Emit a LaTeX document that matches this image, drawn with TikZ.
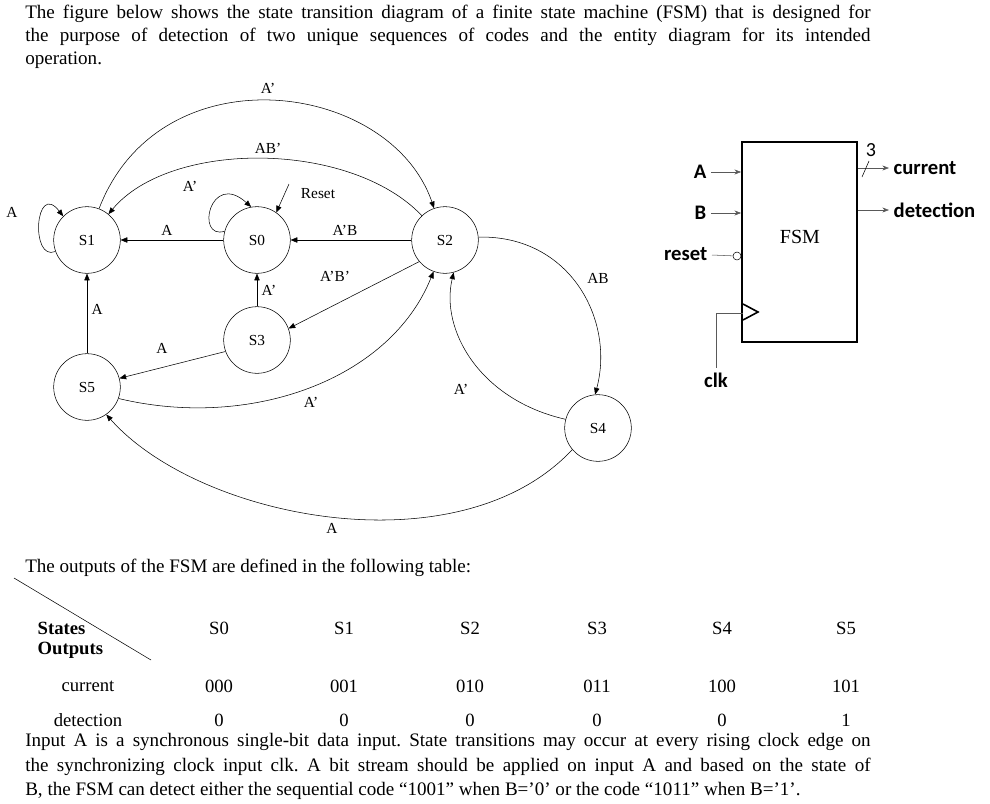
\documentclass[tikz,border=0pt]{standalone}
\usepackage{fontspec}
\setmainfont{Liberation Serif}
\newfontfamily\carlito{Carlito}
\usetikzlibrary{arrows.meta}

\begin{document}
\begin{tikzpicture}[x=0.75pt,y=-0.75pt,
    state/.style={draw,circle,minimum size=50,inner sep=0pt,font=\fontsize{11.5}{11}\selectfont},
    lbl/.style={font=\fontsize{11.5}{12}\selectfont},
    tr/.style={-{Triangle[length=5pt,width=4pt]},thin},
    io/.style={font=\carlito\bfseries\fontsize{15.5}{16}\selectfont},
    cell/.style={font=\fontsize{14}{14}\selectfont}]
\useasboundingbox (0,0) rectangle (990,804);

% Intro text
\node[anchor=north west,inner sep=0pt,text width=634pt,align=justify,font=\frenchspacing\fontsize{14.3}{17.3}\selectfont] (intro) at (25,5)
  {The figure below shows the state transition diagram of a finite state machine (FSM) that is designed for\linebreak the purpose of detection of two unique sequences of codes and the entity diagram for its intended\linebreak operation.};

% States
\node[state] (S1) at (87,240) {S1};
\node[state] (S0) at (257,240) {S0};
\node[state] (S2) at (445,240) {S2};
\node[state] (S3) at (257,340) {S3};
\node[state] (S5) at (87,387) {S5};
\node[state] (S4) at (598,428) {S4};

% Transitions
\draw[tr] (S1) .. controls (160,50) and (390,80) .. (S2);
\node[lbl] at (268,88) {A'};
\draw[tr] (S2) .. controls (350,140) and (170,140) .. (S1);
\node[lbl] at (268,148) {AB'};
\node[lbl] at (190,186) {A'};
\draw[tr] (S1.200) .. controls (30,262) and (35,180) .. (S1.135);
\node[lbl] at (12,212) {A};
\draw[tr] (S0.165) .. controls (195,240) and (210,170) .. (S0.100);
\coordinate (rst) at (289,184);
\draw[tr] (rst) -- (S0.55);
\node[lbl] at (318,194) {Reset};
\draw[tr] (S0) -- node[lbl,above,pos=0.55] {A} (S1);
\draw[tr] (S2) -- node[lbl,above,pos=0.55] {A'B} (S0);
\draw[tr] (S2.220) -- (S3.20);
\node[lbl] at (335,276) {A'B'};
\draw[tr] (S3) -- node[lbl,right,pos=0.5] {A'} (S0);
\draw[tr] (S3.200) -- (S5.15);
\node[lbl] at (162,348) {A};
\draw[tr] (S5) -- node[lbl,right,pos=0.55] {A} (S1);
\draw[tr] (S5.-20) .. controls (250,430) and (390,380) .. (S2.250);
\node[lbl] at (311,402) {A'};
\draw[tr] (S2.5) .. controls (570,235) and (615,320) .. (S4.95);
\node[lbl] at (598,278) {AB};
\draw[tr] (S4.165) .. controls (480,400) and (440,330) .. (S2.285);
\node[lbl] at (461,389) {A'};
\draw[tr] (S4.220) .. controls (460,570) and (200,520) .. (S5.-55);
\node[lbl] at (332,528) {A};

% Entity diagram
\node[draw,line width=1.6pt,minimum width=86pt,minimum height=150pt,inner sep=0pt] (fsm) at (799.5,242) {};
\node[font=\fontsize{15}{15}\selectfont] at (800,237) {FSM};
\node[io,anchor=east] (inA) at (711,172) {A};
\node[io,anchor=east] (inB) at (711,213) {B};
\node[io,anchor=east] (inR) at (712,254) {reset};
\draw[-{Stealth[length=5pt]},gray!70!black] (inA) -- (inA -| fsm.west);
\draw[-{Stealth[length=5pt]},gray!70!black] (inB) -- (inB -| fsm.west);
\node[draw,circle,inner sep=0pt,minimum size=6pt,thin] (bub) at (737,256) {};
\draw[gray!70!black] (inR) -- (bub);
\draw[line width=1.2pt] (743,304) -- (758,312) -- (743,320);
\node[io] (clk) at (716,380) {clk};
\coordinate (ck) at (743,313);
\draw[gray!70!black] (ck) -| (clk.north);
\node[io,anchor=west] (outC) at (889,168) {current};
\node[io,anchor=west] (outD) at (889,210) {detection};
\draw[-{Stealth[length=5pt]},gray!70!black] (outC.west -| fsm.east) -- (outC);
\draw[-{Stealth[length=5pt]},gray!70!black] (outD.west -| fsm.east) -- (outD);
\draw (862,177) -- (869,161);
\node[font=\carlito\fontsize{15}{15}\selectfont] at (871,150) {3};

% Output table
\node[anchor=west,inner sep=0pt,font=\fontsize{14.3}{17}\selectfont] (cap) at (25,568) {The outputs of the FSM are defined in the following table:};
\draw (14,578) -- (151,660);
\node[cell,anchor=west,font=\bfseries\fontsize{14}{14}\selectfont] at (33,628) {States};
\node[cell,anchor=west,font=\bfseries\fontsize{14}{14}\selectfont] at (33,650) {Outputs};
\node[cell] at (88,686) {current};
\node[cell] at (88,720) {detection};
\foreach \s/\x/\c/\d in {S0/219/000/0,S1/344/001/0,S2/470/010/0,S3/597/011/0,S4/722/100/0,S5/846/101/1}{
  \node[cell] at (\x,628) {\s};
  \node[cell] at (\x,686) {\c};
  \node[cell] at (\x,720) {\d};
}

% Closing text
\node[anchor=north west,inner sep=0pt,text width=634pt,align=justify,font=\frenchspacing\fontsize{14.3}{18.5}\selectfont] (outro) at (25,733)
  {Input A is a synchronous single-bit data input. State transitions may occur at every rising clock edge on\linebreak the synchronizing clock input clk. A bit stream should be applied on input A and based on the state of\linebreak B, the FSM can detect either the sequential code “1001” when B=’0’ or the code “1011” when B=’1’.};
\end{tikzpicture}
\end{document}
